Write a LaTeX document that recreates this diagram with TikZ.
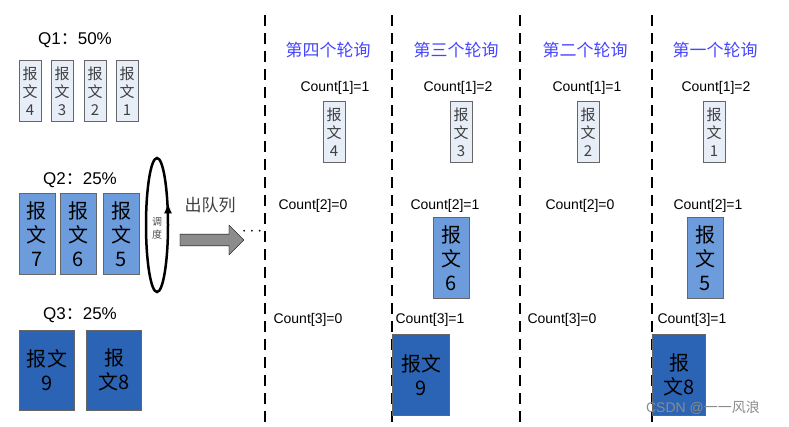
\documentclass[tikz,border=0pt]{standalone}
\usepackage{fontspec}
\setmainfont{Liberation Sans}
\newfontfamily\cjk{Noto Sans CJK SC}
\usetikzlibrary{shapes.arrows}
\definecolor{qone}{HTML}{E8EEF8}
\definecolor{qtwo}{HTML}{6C9CDC}
\definecolor{qthree}{HTML}{2B63B5}
\definecolor{hdblue}{HTML}{4646FF}
\tikzset{
  pkt/.style={draw=black!60, inner sep=0pt, align=center, font=\cjk\fontsize{15}{18}\selectfont},
  p1/.style={pkt, fill=qone, minimum width=22pt, minimum height=61pt, text=black!75},
  p2/.style={pkt, fill=qtwo, minimum width=36pt, minimum height=81pt, font=\cjk\fontsize{20}{24}\selectfont},
  p3/.style={pkt, fill=qthree, minimum width=55pt, minimum height=80pt, font=\cjk\fontsize{20}{24}\selectfont},
  cnt/.style={font=\fontsize{14}{15}\selectfont},
  hd/.style={text=hdblue, font=\cjk\fontsize{17}{18}\selectfont},
  ql/.style={font=\fontsize{17}{18}\selectfont},
  sep/.style={line width=2.5pt, dash pattern=on 11pt off 7pt}
}
\begin{document}
\begin{tikzpicture}[x=1pt, y=-1pt]
\useasboundingbox (0,0) rectangle (789,426);
% queues
\node[ql] (q1) at (75,40) {Q1{\cjk ：}50\%};
\node[p1] (m4) at (30,91) {报\\文\\4};
\node[p1] (m3) at (62,91) {报\\文\\3};
\node[p1] (m2) at (95,91) {报\\文\\2};
\node[p1] (m1) at (127,91) {报\\文\\1};
\node[ql] (q2) at (80,180) {Q2{\cjk ：}25\%};
\node[p2] (m7) at (37,234) {报\\文\\7};
\node[p2] (m6) at (78,234) {报\\文\\6};
\node[p2] (m5) at (121,234) {报\\文\\5};
\node[ql] (q3) at (80,315) {Q3{\cjk ：}25\%};
\node[p3] (m9) at (47,370) {报文\\9};
\node[p3] (m8) at (114,370) {报\\文8};
% scheduler
\draw[line width=2.5pt] (157,225) ellipse (11pt and 67pt);
\draw[line width=2.5pt, -latex] (168,242) -- (168,203);
\node[font=\cjk\fontsize{10}{13}\selectfont, text=black!70, align=center] (sch) at (157,228) {调\\度};
\node[font=\cjk\fontsize{17}{18}\selectfont, text=black!75] (out) at (210,205) {出队列};
\node[single arrow, draw=black, fill=black!45, minimum height=64pt, minimum width=30pt,
  single arrow head extend=8pt, inner sep=5pt] (arr) at (209,240) {};
\node[font=\fontsize{16}{16}\selectfont] (dots) at (252,232) {$\cdots$};
% separators
\foreach \x in {265,392,520,652}
  \draw[sep] (\x,15) -- (\x,426);
% rounds
\node[hd] (h4) at (328,50) {第四个轮询};
\node[hd] (h3) at (456,50) {第三个轮询};
\node[hd] (h2) at (585,50) {第二个轮询};
\node[hd] (h1) at (715,50) {第一个轮询};
\node[cnt] (c41) at (335,88) {Count[1]=1};
\node[cnt] (c31) at (458,88) {Count[1]=2};
\node[cnt] (c21) at (587,88) {Count[1]=1};
\node[cnt] (c11) at (716,88) {Count[1]=2};
\node[p1] (r4) at (334,132) {报\\文\\4};
\node[p1] (r3) at (461,132) {报\\文\\3};
\node[p1] (r2) at (588,132) {报\\文\\2};
\node[p1] (r1) at (714,132) {报\\文\\1};
\node[cnt] (c42) at (313,206) {Count[2]=0};
\node[cnt] (c32) at (445,206) {Count[2]=1};
\node[cnt] (c22) at (580,206) {Count[2]=0};
\node[cnt] (c12) at (708,206) {Count[2]=1};
\node[p2] (r6) at (451,258) {报\\文\\6};
\node[p2] (r5) at (705,258) {报\\文\\5};
\node[cnt] (c43) at (308,320) {Count[3]=0};
\node[cnt] (c33) at (430,320) {Count[3]=1};
\node[cnt] (c23) at (562,320) {Count[3]=0};
\node[cnt] (c13) at (692,320) {Count[3]=1};
\node[p3, minimum width=57pt, minimum height=81pt] (r9) at (421,375) {报文\\9};
\node[p3, minimum width=53pt, minimum height=81pt] (r8) at (679,375) {报\\文8};
\node[text=black!45, font=\fontsize{14}{15}\selectfont] (wm) at (703,408) {CSDN @{\cjk 一一风浪}};
\end{tikzpicture}
\end{document}
